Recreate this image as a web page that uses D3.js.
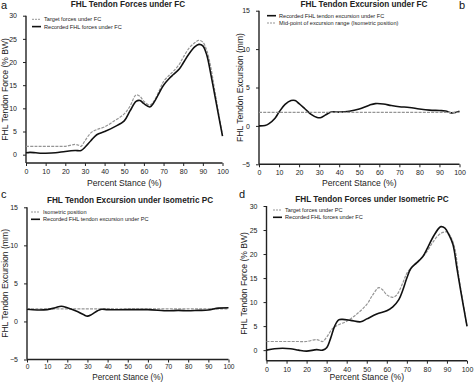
<!DOCTYPE html>
<html><head><meta charset="utf-8">
<script src="https://cdn.jsdelivr.net/npm/d3@7"></script>
<style>body{margin:0;background:#fff}svg{display:block;font-family:"Liberation Sans",Arial,sans-serif}</style>
</head><body><svg id="c" width="474" height="382"></svg>
<script>
const xTicks = [0,10,20,30,40,50,60,70,80,90,100];
const forceTicks = [0,5,10,15,20,25,30];
const excTicks = [-5,0,5,10,15];

// Panel a
const aTargetX = [0,5,10,15,20,25,27,28,30,33,36,40,45,50,53,56,58,60,63,65,68,70,73,75,78,80,83,86,88,90,92,94,96,98,100];
const aTargetY = [1.8,1.8,1.8,1.8,1.8,2.2,2.0,1.8,3.0,4.7,5.4,6.0,7.3,8.8,10.5,12.9,12.6,11.5,10.7,11.5,14,15.8,17.2,18.0,19.5,21,23,24.2,24.7,24.3,22.5,19,14,9,4.2];
const aRecX = [0,2,5,8,10,15,20,25,28,30,33,36,40,45,50,53,56,58,60,63,65,68,70,73,75,78,80,83,86,88,90,92,94,96,98,100];
const aRecY = [0.4,0.5,0.4,0.3,0.3,0.4,0.7,0.9,0.9,1.6,3.0,4.3,5.0,6.0,7.3,9.5,11.5,11.7,11.0,10.3,11.2,13.5,15.0,16.5,17.3,18.5,19.8,21.8,23.3,23.8,23.5,21.5,17.5,13,8.5,4.0];

// Panel b
const bRecX = [0,3,5,8,10,13,16,18,20,23,26,29,31,33,36,40,45,50,55,58,62,66,70,75,80,85,90,93,96,98,100];
const bRecY = [0,0.05,0.3,1.0,1.8,2.8,3.3,3.3,2.9,2.2,1.5,1.1,1.1,1.4,1.8,1.8,1.9,2.2,2.7,2.9,2.85,2.65,2.5,2.4,2.2,2.05,2.0,1.95,1.7,1.75,1.9];
const bMidX = [0,100];
const bMidY = [1.75,1.75];

// Panel c
const cIsoX = [0,100];
const cIsoY = [1.65,1.65];
const cRecX = [0,5,10,14,17,20,25,28,30,32,35,37,40,50,60,70,75,80,85,90,95,100];
const cRecY = [1.6,1.5,1.55,1.8,2.0,1.8,1.3,0.9,0.7,0.9,1.4,1.6,1.55,1.55,1.55,1.4,1.45,1.4,1.45,1.5,1.75,1.8];

// Panel d
const dTargetX = [0,5,10,15,20,25,28,30,33,36,40,45,50,53,56,58,60,63,65,68,70,73,78,80,83,86,88,90,92,94,96,98,100];
const dTargetY = [1.8,1.8,1.8,1.8,1.8,2.2,1.8,2.7,4.5,5.3,6.0,7.5,9.5,11.5,13.0,12.5,11.5,11.0,11.5,14,16,17.5,19.5,20.5,22.5,24,24.5,24.6,23.5,21,15,10,4.8];
const dRecX = [0,4,8,12,16,20,25,28,30,32,34,36,38,42,47,50,55,60,63,66,68,70,72,75,78,80,83,86,87,89,91,93,95,97,100];
const dRecY = [0.0,0.3,0.4,0.3,0.0,-0.2,0.1,0.0,0.5,2.5,5.0,6.3,6.4,6.2,5.9,6.5,7.5,8.2,9.0,10.5,12.5,15,17,18.2,19.5,21,23.5,25.4,25.7,25.4,24,22,17,12,5.0];

const svg = d3.select("#c");
const zip = (xs, ys) => xs.map((x,i)=>[x, ys[i]]);

function panel(o){
  const g = svg.append("g");
  const x = d3.scaleLinear().domain([0,100]).range([o.x0,o.x1]);
  const y = d3.scaleLinear().domain(o.ydom).range([o.yb,o.yt]);
  const xa = g.append("g").attr("transform",`translate(0,${o.yb})`)
    .call(d3.axisBottom(x).tickValues(xTicks).tickSize(3).tickPadding(o.xpad||3));
  const ya = g.append("g").attr("transform",`translate(${o.x0},0)`)
    .call(d3.axisLeft(y).tickValues(o.yticks).tickSize(3).tickPadding(6));
  [xa,ya].forEach(a=>{
    a.select(".domain").attr("stroke","#222").attr("stroke-width",1.4);
    a.selectAll(".tick line").attr("stroke","#222");
    a.selectAll("text").attr("font-size",7).attr("fill","#222").attr("font-family","Liberation Sans, Arial, sans-serif");
  });
  if (o.xtfs) xa.selectAll("text").attr("font-size",o.xtfs);
  ya.select(".domain").attr("d",`M0,${o.yb}V${o.yt}`);
  xa.select(".domain").attr("d",`M${o.x0},0H${o.x1}`);
  const line = d3.line().x(d=>x(d[0])).y(d=>y(d[1])).curve(d3.curveCatmullRom.alpha(0.5));
  o.series.forEach(s=>{
    g.append("path").attr("d",line(s.data)).attr("fill","none")
      .attr("stroke",s.dash?"#959595":"#111").attr("stroke-width",s.dash?1.2:1.6)
      .attr("stroke-dasharray",s.dash?"3,1.2":null);
  });
  o.series.slice().sort((a,b)=>a.leg-b.leg).forEach((s,i)=>{
    const ly = o.legY + i*7.3;
    g.append("line").attr("x1",o.legX).attr("x2",o.legX+9).attr("y1",ly).attr("y2",ly)
      .attr("stroke",s.dash?"#959595":"#111").attr("stroke-width",s.dash?1:1.6)
      .attr("stroke-dasharray",s.dash?"2,1":null);
    g.append("text").attr("x",o.legX+12).attr("y",ly+2).attr("font-size",5.6).attr("fill","#222").text(s.name);
  });
  g.append("text").attr("x",o.tx).attr("y",o.ty).attr("text-anchor","middle").attr("font-size",8.2)
    .attr("font-weight","bold").attr("fill","#222").text(o.title);
  g.append("text").attr("x",(o.x0+o.x1)/2).attr("y",o.xly).attr("text-anchor","middle").attr("font-size",o.xlfs||8.6)
    .attr("fill","#222").text("Percent Stance (%)");
  g.append("text").attr("transform",`translate(${o.ylx},${(o.yt+o.yb)/2}) rotate(-90)`).attr("text-anchor","middle")
    .attr("font-size",8.6).attr("fill","#222").text(o.ylabel);
  g.append("text").attr("x",o.lx).attr("y",o.ly).attr("font-size",11).attr("fill","#111").text(o.letter);
}

panel({x0:26,x1:222.5,yt:15.7,yb:163,ydom:[-1.8,30],yticks:forceTicks,
  series:[{data:zip(aTargetX,aTargetY),dash:true,name:"Target forces under FC",leg:0},
          {data:zip(aRecX,aRecY),dash:false,name:"Recorded FHL forces under FC",leg:1}],
  legX:32,legY:19.3,title:"FHL Tendon Forces under FC",tx:128,ty:7,xly:186,ylx:7.5,
  ylabel:"FHL Tendon Force (% BW)",letter:"a",lx:1,ly:9});

panel({x0:259,x1:459.5,yt:10.7,yb:164.3,ydom:[-5,15],yticks:excTicks,
  series:[{data:zip(bRecX,bRecY),dash:false,name:"Recorded FHL tendon excursion under FC",leg:0},
          {data:zip(bMidX,bMidY),dash:true,name:"Mid-point of excursion range (Isometric position)",leg:1}],
  legX:267,legY:15.7,title:"FHL Tendon Excursion under FC",tx:364,ty:7,xly:186,ylx:243,
  ylabel:"FHL Tendon Excursion (mm)",letter:"b",lx:459,ly:9});

panel({x0:27,x1:228.5,yt:207.3,yb:359.5,ydom:[-5,15],yticks:excTicks,xpad:2,xlfs:8.2,xtfs:6.6,
  series:[{data:zip(cIsoX,cIsoY),dash:true,name:"Isometric position",leg:0},
          {data:zip(cRecX,cRecY),dash:false,name:"Recorded FHL tendon excursion under PC",leg:1}],
  legX:31,legY:212,title:"FHL Tendon Excursion under Isometric PC",tx:130,ty:203,xly:380,ylx:7.5,
  ylabel:"FHL Tendon Excursion (mm)",letter:"c",lx:1,ly:198});

panel({x0:266.5,x1:467,yt:206,yb:360.7,ydom:[-2.2,30],yticks:forceTicks,
  series:[{data:zip(dTargetX,dTargetY),dash:true,name:"Target forces under PC",leg:0},
          {data:zip(dRecX,dRecY),dash:false,name:"Recorded FHL forces under FC",leg:1}],
  legX:273,legY:210,title:"FHL Tendon Forces under Isometric PC",tx:372,ty:202,xly:380,ylx:247,
  ylabel:"FHL Tendon Force (% BW)",letter:"d",lx:239,ly:198});
</script></body></html>
